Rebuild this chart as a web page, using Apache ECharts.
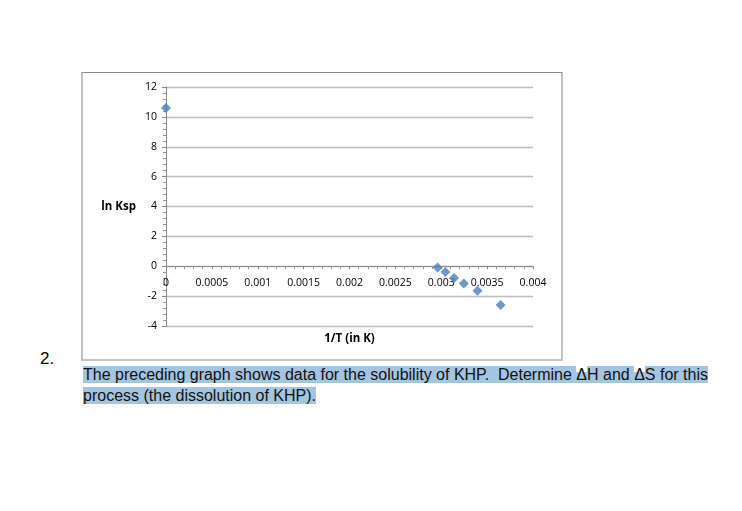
<!DOCTYPE html>
<html>
<head>
<meta charset="utf-8">
<script src="https://cdn.jsdelivr.net/npm/echarts@6/dist/echarts.min.js"></script>
<style>
  html, body { margin: 0; padding: 0; background: #fff; }
  body { width: 742px; height: 511px; position: relative; overflow: hidden; font-family: "Liberation Sans", Arial, sans-serif; }
  #frame { position: absolute; left: 81px; top: 72px; width: 478px; height: 286px;
           border: 1px solid #bdbdbd; border-top-color: #8c8c8c; border-left: 2px solid #c4c4c4; border-right: 2px solid #c4c4c4; border-bottom: 2px solid #c4c4c4; }
  #chart { position: absolute; left: 0; top: 0; width: 478px; height: 286px; }
  #num { position: absolute; left: 40px; top: 349px; font-size: 17px; color: #000; }
  #txt { position: absolute; left: 83px; top: 364px; width: 660px; font-size: 16px; line-height: 21px; color: #111; }
  .hl { background: #a4c5df; }
  .d { background: linear-gradient(#fff 0, #fff 6px, #a4c5df 6px); }
</style>
</head>
<body>
<div id="frame"><div id="chart"></div></div>
<div id="num">2.</div>
<div id="txt"><span class="hl">The preceding graph shows data for the solubility of KHP.&nbsp; Determine </span><span class="d">Δ</span><span class="hl">H and </span><span class="d">Δ</span><span class="hl">S for this </span><br><span class="hl">process (the dissolution of KHP).</span></div>
<script>
// Data
const invT = [0, 0.00296, 0.003045, 0.00314, 0.003246, 0.003395, 0.003647];
const lnKsp = [10.6, -0.08, -0.39, -0.79, -1.15, -1.64, -2.6];
const xTicks = { min: 0, max: 0.004, step: 0.0005 };
const yTicks = { min: -4, max: 12, step: 2 };
const xName = '1/T (in K)';
const yName = 'ln Ksp';

const points = invT.map((x, i) => [x, lnKsp[i]]);
const chart = echarts.init(document.getElementById('chart'), null, { renderer: 'canvas' });
const FONT = '"Open Sans", "Liberation Sans", sans-serif';
const lblFont = { fontFamily: FONT, fontSize: 10.5, color: '#000' };
const gridTop = 14, gridBottom = 33, chartH = 286;
const plotH = chartH - gridTop - gridBottom;
// place the x axis where y = 0 crosses
const zeroOffset = -plotH * (0 - yTicks.min) / (yTicks.max - yTicks.min);
chart.setOption({
  animation: false,
  grid: { left: 83, right: 28, top: gridTop, bottom: gridBottom, containLabel: false, outerBoundsMode: 'none' },
  xAxis: {
    type: 'value', min: xTicks.min, max: xTicks.max, interval: xTicks.step,
    position: 'bottom', offset: zeroOffset,
    name: xName, nameLocation: 'middle', nameGap: 66,
    nameTextStyle: { fontFamily: FONT, fontSize: 11.5, fontWeight: 'bold', color: '#000' },
    axisLine: { onZero: false, lineStyle: { color: '#8a8a8a', width: 1 } },
    axisTick: { show: true, inside: false, length: 3, lineStyle: { color: '#8a8a8a' } },
    minorTick: { show: true, splitNumber: 5, length: 3, lineStyle: { color: '#9a9a9a' } },
    axisLabel: Object.assign({ margin: 11, formatter: v => String(+v.toFixed(4)) }, lblFont),
    splitLine: { show: false }
  },
  yAxis: {
    type: 'value', min: yTicks.min, max: yTicks.max, interval: yTicks.step,
    name: yName, nameLocation: 'middle', nameGap: 30, nameRotate: 0,
    nameTextStyle: { fontFamily: FONT, fontSize: 11.5, fontWeight: 'bold', color: '#000' },
    axisLine: { show: true, lineStyle: { color: '#8a8a8a', width: 1 } },
    axisTick: { show: true, length: 4, lineStyle: { color: '#8a8a8a' } },
    minorTick: { show: true, splitNumber: 5, length: 3, inside: true, lineStyle: { color: '#9a9a9a' } },
    axisLabel: Object.assign({ margin: 9 }, lblFont),
    splitLine: { show: true, lineStyle: { color: '#bdbdbd', width: 1.3 } }
  },
  series: [{
    type: 'scatter', data: points, symbol: 'diamond', symbolSize: [10, 10],
    itemStyle: { color: '#4a7ebb' }
  }]
});
</script>
</body>
</html>
